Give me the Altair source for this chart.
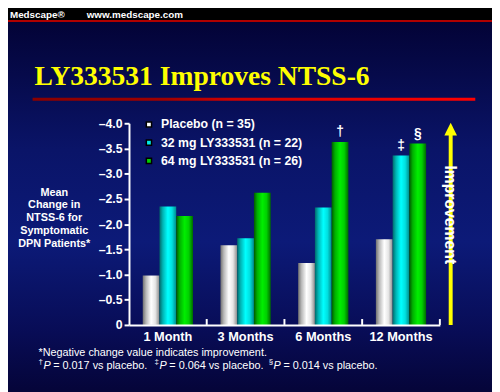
import altair as alt
import pandas as pd

# ---------------- data ----------------
months = ["1 Month", "3 Months", "6 Months", "12 Months"]
series = ["Placebo (n = 35)", "32 mg LY333531 (n = 22)", "64 mg LY333531 (n = 26)"]
placebo = [-0.98, -1.58, -1.23, -1.70]
mg32 = [-2.35, -1.72, -2.33, -3.36]
mg64 = [-2.16, -2.62, -3.63, -3.60]
sig_placebo = ["", "", "", ""]
sig_32 = ["", "", "", "‡"]
sig_64 = ["", "", "†", "§"]
y_ticks = [-4.0, -3.5, -3.0, -2.5, -2.0, -1.5, -1.0, -0.5, 0.0]
y_title = ["Mean", "Change in", "NTSS-6 for", "Symptomatic", "DPN Patients*"]
chart_title = "LY333531 Improves NTSS-6"
header_left = "Medscape®"
header_right = "www.medscape.com"
arrow_text = "Improvement"
footnote1 = "*Negative change value indicates improvement."
fn_syms = ["†", "‡", "§"]
fn_rest = ["= 0.017 vs placebo.", "= 0.064 vs placebo.", "= 0.014 vs placebo."]

rows = []
for vals, sigs, s in [(placebo, sig_placebo, series[0]), (mg32, sig_32, series[1]), (mg64, sig_64, series[2])]:
    for m, v, g in zip(months, vals, sigs):
        rows.append({"month": m, "series": s, "value": v, "sig": g})
df = pd.DataFrame(rows)
one = pd.DataFrame({"k": [0]})

FONT = "Liberation Sans"
SERIF = "Liberation Serif"

def grad_h(stops):
    return alt.Gradient(gradient="linear", x1=0, x2=1, y1=0, y2=0,
                        stops=[alt.GradientStop(offset=o, color=c) for o, c in stops])

def grad_v(stops):
    return alt.Gradient(gradient="linear", x1=0, x2=0, y1=0, y2=1,
                        stops=[alt.GradientStop(offset=o, color=c) for o, c in stops])

bar_grads = {
    series[0]: grad_h([(0, "#707070"), (0.2, "#b8b8b8"), (0.5, "#ffffff"), (0.75, "#e6e6e6"), (1, "#8c8c8c")]),
    series[1]: grad_h([(0, "#006a6a"), (0.2, "#00b4b4"), (0.5, "#00ffff"), (0.75, "#00e0e0"), (1, "#008c8c")]),
    series[2]: grad_h([(0, "#005a00"), (0.2, "#00b000"), (0.5, "#00ee00"), (0.75, "#00d000"), (1, "#006a00")]),
}

x_scale = alt.Scale(domain=months, paddingInner=0, paddingOuter=0)
y_scale = alt.Scale(domain=[0, -4], nice=False, zero=False)
x_axis = alt.Axis(title=None, labelAngle=0, labelColor="white", labelFont=FONT,
                  labelFontWeight="bold", labelFontSize=13, labelPadding=6,
                  ticks=False, domainColor="white", domainWidth=2, grid=False, zindex=2)
y_axis = alt.Axis(title=None, values=y_ticks, grid=False, labelOverlap=False,
                  labelExpr="datum.value == 0 ? '0' : '\u2013' + format(-datum.value, '.1f')",
                  labelColor="white", labelFont=FONT, labelFontWeight="bold",
                  labelFontSize=12.5, labelPadding=2, tickColor="white", tickSize=5,
                  tickWidth=2, domainColor="white", domainWidth=2, zindex=2)

def xe(band=None):
    if band is None:
        return alt.X("month:N", sort=months, scale=x_scale, axis=x_axis)
    return alt.X("month:N", sort=months, scale=x_scale, axis=x_axis, bandPosition=band)

y_enc = alt.Y("value:Q", scale=y_scale, axis=y_axis)
xo_enc = alt.XOffset("series:N", scale=alt.Scale(domain=series, paddingInner=0, paddingOuter=0.82))

layers = []

# background
layers.append(alt.Chart(one).mark_rect(color=grad_v([(0, "#030336"), (0.35, "#0a1468"), (0.6, "#0c1a78"), (0.85, "#080c55"), (1, "#05053a")])).encode(
    x=alt.value(-131), x2=alt.value(369), y=alt.value(-104), y2=alt.value(270)))
# header strip
layers.append(alt.Chart(one).mark_rect(color="black").encode(
    x=alt.value(-131), x2=alt.value(369), y=alt.value(-130), y2=alt.value(-105)))
layers.append(alt.Chart(one).mark_rect(color="#b00000").encode(
    x=alt.value(-131), x2=alt.value(369), y=alt.value(-105), y2=alt.value(-103)))
layers.append(alt.Chart(one).mark_text(text=header_left, font=FONT, fontWeight="bold", fontSize=10,
                                       color="white", align="left", baseline="alphabetic").encode(
    x=alt.value(-121), y=alt.value(-107)))
layers.append(alt.Chart(one).mark_text(text=header_right, font=FONT, fontWeight="bold", fontSize=10,
                                       color="white", align="left", baseline="alphabetic").encode(
    x=alt.value(-43), y=alt.value(-107)))
# title
layers.append(alt.Chart(one).mark_text(text=chart_title, font=SERIF, fontWeight="bold", fontSize=28,
                                       color="#ffff00", align="left", baseline="alphabetic").encode(
    x=alt.value(-96), y=alt.value(-39)))
layers.append(alt.Chart(one).mark_rect(color=grad_h([(0, "#8a0000"), (0.3, "#a00000"), (0.45, "#d00000"), (1, "#ff0000")])).encode(
    x=alt.value(-98), x2=alt.value(352), y=alt.value(-26), y2=alt.value(-23)))

# bars
for s in series:
    layers.append(alt.Chart(df).transform_filter(alt.datum.series == s).mark_bar(
        color=bar_grads[s]).encode(x=xe(), xOffset=xo_enc, y=y_enc))

# significance marks
layers.append(alt.Chart(df).transform_filter(alt.datum.sig != "").mark_text(
    font=FONT, fontSize=14, fontWeight="bold", color="white", baseline="bottom", dy=-3).encode(
    x=xe(), xOffset=xo_enc, y=y_enc, text="sig:N"))

# category boundary ticks on x axis
layers.append(alt.Chart(pd.DataFrame({"month": months[1:]})).mark_rule(color="white", strokeWidth=2).encode(
    x=xe(0), y=alt.value(205), y2=alt.value(199)))
layers.append(alt.Chart(pd.DataFrame({"month": months[-1:]})).mark_rule(color="white", strokeWidth=2).encode(
    x=xe(1), y=alt.value(205), y2=alt.value(199)))

# improvement arrow
layers.append(alt.Chart(one).mark_rule(color="#ffff00", strokeWidth=4).encode(
    x=alt.value(327), y=alt.value(11), y2=alt.value(205)))
layers.append(alt.Chart(one).mark_point(shape="M0,-1L1,1L-1,1Z", filled=True, color="#ffff00",
                                        size=165, opacity=1).encode(
    x=alt.value(327), y=alt.value(6)))
layers.append(alt.Chart(one).mark_text(text=arrow_text, font=FONT, fontWeight="bold", fontSize=16,
                                       color="white", angle=90, align="center", baseline="middle").encode(
    x=alt.value(326), y=alt.value(93)))

# y title
layers.append(alt.Chart(one).mark_text(text=y_title, font=FONT, fontWeight="bold", fontSize=11,
                                       lineHeight=13, color="white", align="center", baseline="middle").encode(
    x=alt.value(-76), y=alt.value(70.5)))

# footnotes
layers.append(alt.Chart(one).mark_text(text=footnote1, font=FONT, fontSize=11, color="white",
                                       align="left", baseline="alphabetic").encode(
    x=alt.value(-92), y=alt.value(237)))
fn_x = [-92, 26, 142]
for sx, sym, rest in zip(fn_x, fn_syms, fn_rest):
    layers.append(alt.Chart(one).mark_text(text=sym, font=FONT, fontSize=8, color="white",
                                           align="left", baseline="alphabetic").encode(
        x=alt.value(sx), y=alt.value(245)))
    layers.append(alt.Chart(one).mark_text(text="P", font=FONT, fontSize=11, fontStyle="italic",
                                           color="white", align="left", baseline="alphabetic").encode(
        x=alt.value(sx + 5), y=alt.value(250)))
    layers.append(alt.Chart(one).mark_text(text=rest, font=FONT, fontSize=11, color="white",
                                           align="left", baseline="alphabetic").encode(
        x=alt.value(sx + 15), y=alt.value(250)))

# legend (hidden layer that drives the legend)
layers.append(alt.Chart(df).mark_square(opacity=0).encode(
    x=xe(), y=y_enc,
    color=alt.Color("series:N", scale=alt.Scale(domain=series, range=["#ffffff", "#00e8e8", "#00d000"]),
                    legend=alt.Legend(title=None, orient="none", legendX=14, legendY=-5,
                                      symbolType="square", symbolSize=28, symbolOpacity=1,
                                      symbolStrokeColor="black", symbolStrokeWidth=1.5,
                                      labelColor="white", labelFont=FONT, labelFontWeight="bold",
                                      labelFontSize=12.5, labelOffset=6, rowPadding=5.5,
                                      labelLimit=300))))

chart = alt.layer(*layers).properties(
    width=316, height=205,
    autosize=alt.AutoSizeParams(type="none"),
    padding={"left": 123, "top": 114, "right": 53, "bottom": 65},
).configure(background="#05053a").configure_view(stroke=None)

chart.save("out.html", embed_options={"renderer": "svg", "actions": False})
